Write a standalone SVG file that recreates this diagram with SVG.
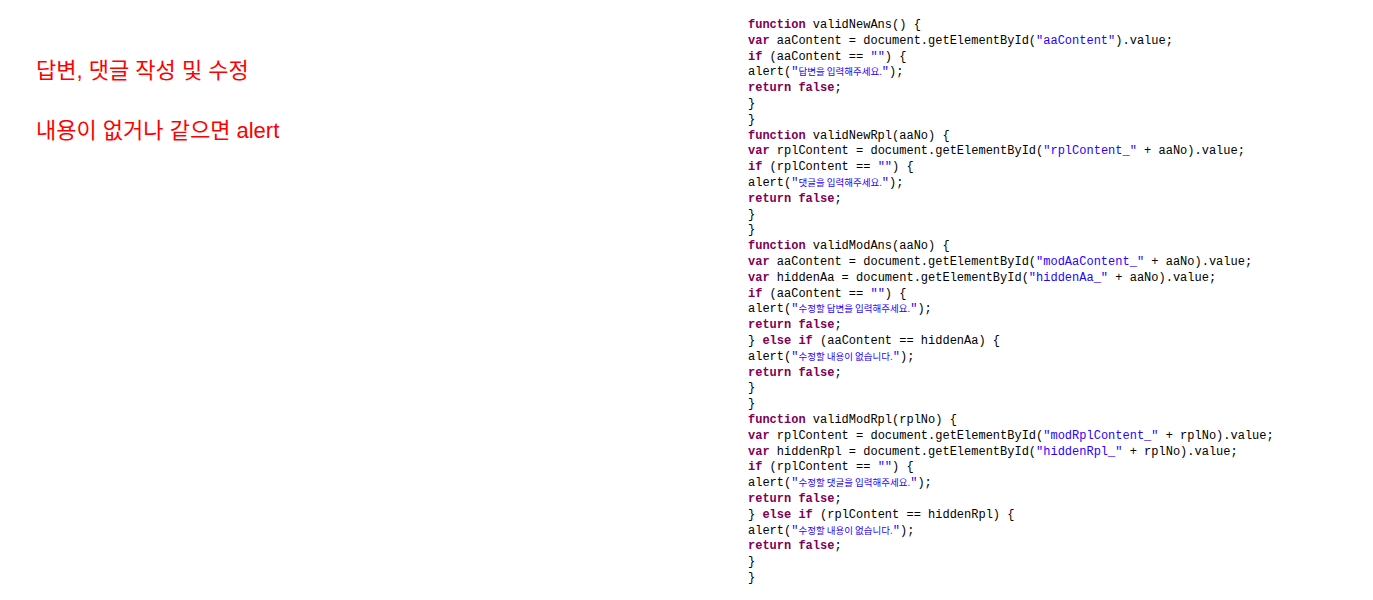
<svg xmlns="http://www.w3.org/2000/svg" width="1373" height="600" viewBox="0 0 1373 600">
<style>
.c{font-family:"Liberation Mono",monospace;font-size:12px;fill:#000;white-space:pre}
.k{fill:#7f0055;font-weight:bold}
.s{fill:#2a00ff}
.h{font-family:"Noto Sans CJK KR",sans-serif;font-size:9.5px}
.t{font-family:"Liberation Sans","Noto Sans CJK KR",sans-serif;font-size:22px;fill:#ff0000}
</style>
<rect width="1373" height="600" fill="#fff"/>
<g id="title">
<text class="t" x="36" y="78">답변, 댓글 작성 및 수정</text>
<text class="t" x="36" y="138">내용이 없거나 같으면 alert</text>
</g>
<g id="code" class="c" xml:space="preserve">
<text x="748" y="28"><tspan class="k">function</tspan> validNewAns() {</text>
<text x="748" y="43.8">    <tspan class="k">var</tspan> aaContent = document.getElementById(<tspan class="s">"aaContent"</tspan>).value;</text>
<text x="748" y="59.6">    <tspan class="k">if</tspan> (aaContent == <tspan class="s">""</tspan>) {</text>
<text x="748" y="75.4">        alert(<tspan class="s">"<tspan class="h">답변을 입력해주세요.</tspan>"</tspan>);</text>
<text x="748" y="91.2">        <tspan class="k">return false</tspan>;</text>
<text x="748" y="107">    }</text>
<text x="748" y="122.8">}</text>
<text x="748" y="138.6"><tspan class="k">function</tspan> validNewRpl(aaNo) {</text>
<text x="748" y="154.4">    <tspan class="k">var</tspan> rplContent = document.getElementById(<tspan class="s">"rplContent_"</tspan> + aaNo).value;</text>
<text x="748" y="170.2">    <tspan class="k">if</tspan> (rplContent == <tspan class="s">""</tspan>) {</text>
<text x="748" y="186">        alert(<tspan class="s">"<tspan class="h">댓글을 입력해주세요.</tspan>"</tspan>);</text>
<text x="748" y="201.8">        <tspan class="k">return false</tspan>;</text>
<text x="748" y="217.6">    }</text>
<text x="748" y="233.4">}</text>
<text x="748" y="249.2"><tspan class="k">function</tspan> validModAns(aaNo) {</text>
<text x="748" y="265">    <tspan class="k">var</tspan> aaContent = document.getElementById(<tspan class="s">"modAaContent_"</tspan> + aaNo).value;</text>
<text x="748" y="280.8">    <tspan class="k">var</tspan> hiddenAa = document.getElementById(<tspan class="s">"hiddenAa_"</tspan> + aaNo).value;</text>
<text x="748" y="296.6">    <tspan class="k">if</tspan> (aaContent == <tspan class="s">""</tspan>) {</text>
<text x="748" y="312.4">        alert(<tspan class="s">"<tspan class="h">수정할 답변을 입력해주세요.</tspan>"</tspan>);</text>
<text x="748" y="328.2">        <tspan class="k">return false</tspan>;</text>
<text x="748" y="344">    } <tspan class="k">else if</tspan> (aaContent == hiddenAa) {</text>
<text x="748" y="359.8">        alert(<tspan class="s">"<tspan class="h">수정할 내용이 없습니다.</tspan>"</tspan>);</text>
<text x="748" y="375.6">        <tspan class="k">return false</tspan>;</text>
<text x="748" y="391.4">    }</text>
<text x="748" y="407.2">}</text>
<text x="748" y="423"><tspan class="k">function</tspan> validModRpl(rplNo) {</text>
<text x="748" y="438.8">    <tspan class="k">var</tspan> rplContent = document.getElementById(<tspan class="s">"modRplContent_"</tspan> + rplNo).value;</text>
<text x="748" y="454.6">    <tspan class="k">var</tspan> hiddenRpl = document.getElementById(<tspan class="s">"hiddenRpl_"</tspan> + rplNo).value;</text>
<text x="748" y="470.4">    <tspan class="k">if</tspan> (rplContent == <tspan class="s">""</tspan>) {</text>
<text x="748" y="486.2">        alert(<tspan class="s">"<tspan class="h">수정할 댓글을 입력해주세요.</tspan>"</tspan>);</text>
<text x="748" y="502">        <tspan class="k">return false</tspan>;</text>
<text x="748" y="517.8">    } <tspan class="k">else if</tspan> (rplContent == hiddenRpl) {</text>
<text x="748" y="533.6">        alert(<tspan class="s">"<tspan class="h">수정할 내용이 없습니다.</tspan>"</tspan>);</text>
<text x="748" y="549.4">        <tspan class="k">return false</tspan>;</text>
<text x="748" y="565.2">    }</text>
<text x="748" y="581">}</text>
</g>
</svg>
